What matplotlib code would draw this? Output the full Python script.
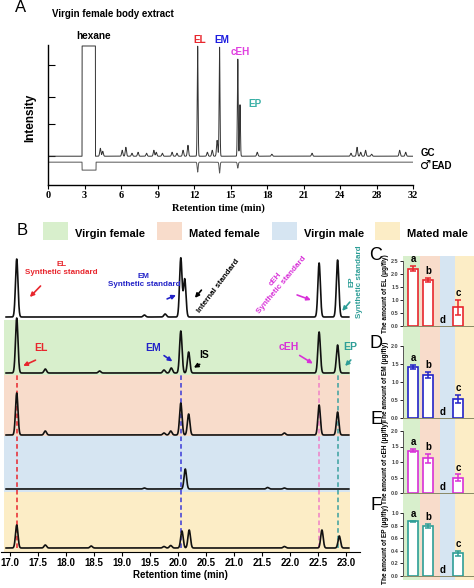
import numpy as np
import matplotlib
matplotlib.use("Agg")
import matplotlib.pyplot as plt
from matplotlib.patches import Rectangle

plt.rcParams['font.family'] = ['Liberation Sans', 'DejaVu Sans']

W, H = 474, 588

# colours
EL_COL = '#e8262d'
EM_COL = '#2323c8'
CEH_COL = '#d830d8'
EP_COL = '#2e9e97'
band_colors = ['#d8efcc', '#f8dccb', '#d6e5f2', '#fcedc6']
groups = ['Virgin female', 'Mated female', 'Virgin male', 'Mated male']

# ---------------- panel A: GC-EAD ----------------
a_tick_pos = [0, 3, 6, 9, 12, 15, 18, 21, 24, 27, 30]
a_tick_labels = ['0', '3', '6', '9', '12', '15', '18', '21', '24', '28', '32']
gc_base = 29
gc_peak_t = [12.3, 14.1, 15.6, 15.78]
gc_peak_h = [111, 110, 98, 52]
gc_small_t = [4.3, 4.5, 6.1, 6.4, 6.9, 7.4, 8.1, 8.7, 8.9, 9.4, 10.2, 10.6, 11.1,
              11.5, 13.1, 13.5, 13.9, 17.2, 18.4, 21.7, 24.9, 25.4, 25.7, 26.1,
              26.6, 28.9, 29.4]
gc_small_h = [8, 5, 6, 9, 3, 4, 3, 6, 4, 3, 4, 3, 6, 11, 4, 6, 16, 4, 2, 3, 3, 9,
              4, 6, 2, 6, 4]
hexane_range = (2.8, 3.9)
hexane_top = 140
ead_base = 23
ead_dip_t = [12.3, 14.1, 15.6]
ead_dip_h = [10, 11, 6]
ead_hexane_low = 15

# ---------------- panel B: chromatograms ----------------
b_ticks = [17.0, 17.5, 18.0, 18.5, 19.0, 19.5, 20.0, 20.5, 21.0, 21.5, 22.0, 22.5, 23.0]
row_base = [235, 179, 117, 63, 4]
row_peak_t = [
    [17.12, 19.4, 19.77, 20.05, 20.12, 22.52, 22.85],
    [17.12, 17.63, 18.6, 19.75, 19.88, 20.05, 20.19, 22.52, 22.85],
    [17.12, 17.63, 19.75, 19.87, 20.05, 20.19, 21.9, 22.52, 22.85],
    [19.4, 20.13, 21.6, 21.9],
    [17.12, 17.63, 18.45, 19.75, 19.87, 20.07, 20.2, 21.9, 22.57, 22.88],
]
row_peak_h = [
    [58, 2, 3, 59, 38, 54, 57],
    [55, 4, 2, 3, 5, 42, 21, 41, 28],
    [42, 4, 2, 4, 32, 21, 2, 30, 23],
    [1, 20, 1.5, 1],
    [23, 3, 2, 1.5, 2.5, 17, 18, 1.5, 18, 12],
]
band_edges = [232, 177, 116, 60, 0]
marker_t = [17.12, 20.05, 22.52, 22.85]
marker_cols = [EL_COL, '#3a3ad8', '#f080c8', '#3aa0a0']

# ---------------- panels C-F: amounts ----------------
sig_letters = ['a', 'b', 'd', 'c']
el_mean = [2.2, 1.77, 0.0, 0.72]
el_err = [0.1, 0.07, 0.0, 0.28]
em_mean = [1.42, 1.2, 0.0, 0.53]
em_err = [0.05, 0.08, 0.0, 0.1]
ceh_mean = [1.36, 1.12, 0.0, 0.5]
ceh_err = [0.05, 0.14, 0.0, 0.1]
ep_mean = [0.87, 0.79, 0.0, 0.36]
ep_err = [0.01, 0.03, 0.0, 0.04]

fig = plt.figure(figsize=(W / 100, H / 100), dpi=100)


def add_ax(l, t, r, b):
    return fig.add_axes([l / W, 1 - b / H, (r - l) / W, (b - t) / H])


def ftext(x, y, s, **kw):
    fig.text(x / W, 1 - y / H, s, **kw)


def peaks(t, pos, hts, sig):
    y = np.zeros_like(t)
    for p, h in zip(pos, hts):
        y += h * np.exp(-(t - p) ** 2 / (2 * sig ** 2))
    return y


# ---- A ----
axA = add_ax(48, 45, 413, 185)
t = np.linspace(0, 30, 6000)
gc = gc_base + peaks(t, gc_peak_t, gc_peak_h, 0.035) + peaks(t, gc_small_t, gc_small_h, 0.05)
inhex = (t >= hexane_range[0]) & (t <= hexane_range[1])
gc = np.where(inhex, hexane_top, gc)
ead = ead_base - peaks(t, ead_dip_t, ead_dip_h, 0.04)
ead = np.where((t >= hexane_range[0]) & (t <= hexane_range[1] + 0.05), ead_hexane_low, ead)
axA.plot(t, gc, color='#333333', lw=0.7)
axA.plot(t, ead, color='#555555', lw=0.7)
axA.set_xlim(0, 30)
axA.set_ylim(0, 141)
axA.spines['top'].set_visible(False)
axA.spines['right'].set_visible(False)
axA.spines['left'].set_linewidth(1.0)
axA.spines['bottom'].set_linewidth(1.0)
axA.set_xticks(a_tick_pos)
axA.set_xticklabels(a_tick_labels, family='Liberation Serif', fontweight='bold', fontsize=7.5)
axA.tick_params(axis='x', length=3, pad=1.5)
axA.set_yticks([29, 61, 89, 121])
axA.set_yticklabels([])
axA.tick_params(axis='y', direction='in', length=5)
ftext(21, 8, 'A', fontsize=12, ha='center', va='center')
ftext(52, 14, 'Virgin female body extract', fontsize=7, fontweight='bold', va='center')
ftext(30, 118, 'Intensity', fontsize=8.5, fontweight='bold', rotation=90, ha='center', va='center')
ftext(218, 208, 'Retention time (min)', family='Liberation Serif', fontsize=7.6,
      fontweight='bold', ha='center', va='center')
for lbl, x, y, c in [('hexane', 94, 36, 'black'), ('EL', 200, 40, EL_COL), ('EM', 222, 40, '#1c1ce0'),
                     ('cEH', 240, 52, '#e040e0'), ('EP', 255, 104, '#3ab0a6')]:
    ftext(x, y, lbl, fontsize=7.2, fontweight='bold', color=c, ha='center', va='center')
ftext(421, 153, 'GC', fontsize=7, fontweight='bold', va='center')
ftext(420, 165, '♂', fontsize=9, family='DejaVu Sans', fontweight='bold', va='center')
ftext(431, 166, 'EAD', fontsize=7, fontweight='bold', va='center')

# ---- B legend row ----
ftext(22, 231, 'B', fontsize=12, ha='center', va='center')
patch_x = [43, 157, 272, 375]
for px, c, g in zip(patch_x, band_colors, groups):
    fig.add_artist(Rectangle((px / W, 1 - 240 / H), 25 / W, 18 / H, color=c,
                             transform=fig.transFigure, lw=0))
    ftext(px + 32, 234, g, fontsize=8, fontweight='bold', va='center')

# ---- B chromatograms ----
axB = add_ax(1, 250, 360, 552)
x0 = 17.0 - 9 / 56.0
x1 = 17.0 + 350 / 56.0
band_right = 23.07
axB.set_xlim(x0, x1)
axB.set_ylim(0, 302)
for i, c in enumerate(band_colors):
    axB.fill_between([16.9, band_right], band_edges[i + 1], band_edges[i], color=c, lw=0, zorder=0)
tb = np.linspace(16.93, 23.05, 4000)
for base, pt, ph in zip(row_base, row_peak_t, row_peak_h):
    axB.plot(tb, base + peaks(tb, pt, ph, 0.022), color='#111111', lw=1.2, zorder=3)
for mt, mc in zip(marker_t, marker_cols):
    axB.vlines(mt, 4, 177, colors=mc, linestyles=(0, (3, 2)), lw=1.1, zorder=2)
for s in ['top', 'right', 'left']:
    axB.spines[s].set_visible(False)
axB.set_yticks([])
axB.set_xticks(b_ticks)
axB.set_xticklabels([f'{v:.1f}' for v in b_ticks], fontsize=7, fontweight='bold')
axB.tick_params(axis='x', length=3, pad=1.5)
axB.set_xlabel('Retention time (min)', fontsize=7, fontweight='bold', labelpad=1)

arrow_kw = dict(arrowstyle='-|>', lw=1.2, mutation_scale=6)
notes = [
    ('EL\nSynthetic standard', (17.92, 284), (17.58, 268), (17.32, 253), EL_COL, 0),
    ('EM\nSynthetic standard', (19.39, 272), (19.76, 252), (20.01, 258), EM_COL, 0),
    ('Internal standard', (20.73, 266), (20.45, 264), (20.27, 252), 'black', 53),
    ('cEH\nSynthetic standard', (21.8, 270), (22.08, 258), (22.42, 251), CEH_COL, 50),
    ('EP\nSynthetic standard', (23.17, 270), (23.1, 252), (22.9, 239), EP_COL, 90),
    ('EL', (17.55, 204), (17.5, 193), (17.19, 185), EL_COL, 0),
    ('EM', (19.55, 204), (19.71, 198), (19.94, 189), EM_COL, 0),
    ('IS', (20.47, 197), (20.43, 189), (20.24, 183), 'black', 0),
    ('cEH', (21.97, 205), (22.13, 198), (22.45, 187), CEH_COL, 0),
    ('EP', (23.07, 205), (23.12, 194), (22.95, 184), EP_COL, 0),
]
for txt, tpos, a0, a1, c, rot in notes:
    fs = 5.8 if '\n' in txt or rot else 7.5
    axB.text(tpos[0], tpos[1], txt, color=c, fontsize=fs, fontweight='bold', ha='center',
             va='center', rotation=rot, linespacing=1.2, clip_on=False, zorder=5)
    axB.annotate('', xy=a1, xytext=a0, arrowprops=dict(color=c, **arrow_kw), zorder=5)

# ---- C-F bar panels ----
cx = [0, 1, 2, 3]
cat_edges = [-0.67, 0.47, 1.8, 2.8, 4.07]
bg = add_ax(403, 256, 474, 580)
bg.set_xlim(cat_edges[0], cat_edges[-1])
for i, c in enumerate(band_colors):
    bg.axvspan(cat_edges[i], cat_edges[i + 1], color=c, lw=0)
bg.axis('off')

panels = [
    ('C', 'EL', el_mean, el_err, EL_COL, (261, 326), 2.5, 0.5, 256),
    ('D', 'EM', em_mean, em_err, EM_COL, (346, 418), 2.0, 0.5, 344),
    ('E', 'cEH', ceh_mean, ceh_err, CEH_COL, (431, 493), 2.0, 0.5, 420),
    ('F', 'EP', ep_mean, ep_err, EP_COL, (513, 576), 1.0, 0.2, 505),
]
for letter, name, mean, err, col, (top, bot), ymax, step, ly in panels:
    ax = add_ax(403, top, 474, bot)
    ax.patch.set_alpha(0)
    ax.set_xlim(cat_edges[0], cat_edges[-1])
    ax.set_ylim(0, ymax)
    keep = [i for i in cx if mean[i] > 0]
    ax.bar([cx[i] for i in keep], [mean[i] for i in keep], width=0.68, facecolor='white',
           edgecolor=col, lw=1.2, zorder=2)
    ax.errorbar([cx[i] for i in keep], [mean[i] for i in keep], yerr=[err[i] for i in keep],
                fmt='none', ecolor=col, elinewidth=1.1, capsize=2.5, capthick=1.1, zorder=3)
    for i in cx:
        yl = mean[i] + err[i] + ymax * 0.03 if mean[i] > 0 else ymax * 0.02
        ax.text(cx[i], yl, sig_letters[i], fontsize=7, fontweight='bold', ha='center', va='bottom')
    ax.set_yticks(np.arange(0, ymax + step / 2, step))
    ax.set_yticklabels([f'{v:.1f}' for v in np.arange(0, ymax + step / 2, step)],
                       fontsize=4, fontweight='bold', color='#444444')
    ax.set_xticks([])
    ax.tick_params(axis='y', length=2, width=0.6, pad=1)
    for s in ['top', 'right']:
        ax.spines[s].set_visible(False)
    ax.spines['left'].set_color('#555555')
    ax.spines['bottom'].set_color('#888866')
    ax.spines['left'].set_linewidth(0.7)
    ax.spines['bottom'].set_linewidth(0.7)
    ax.set_ylabel(f'The amount of {name} (μg/fly)', fontsize=4.7, fontweight='bold', labelpad=1.5)
    ftext(376, ly, letter, fontsize=13, ha='center', va='center')

fig.savefig('out.png', dpi=100)
